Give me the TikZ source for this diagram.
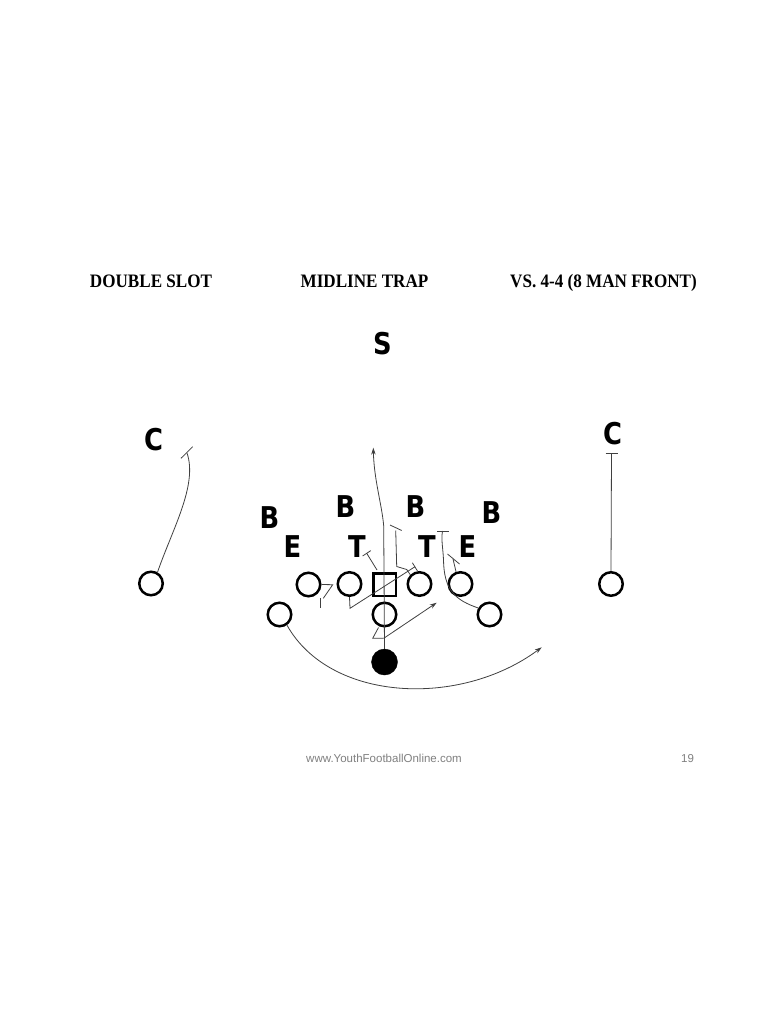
\documentclass[tikz,border=0pt]{standalone}
\usepackage{fontspec}
\setmainfont{Liberation Serif}
\newfontfamily\letterfont{DejaVu Sans}
\newfontfamily\footfont{Liberation Sans}
\newcommand\defletter[1]{\scalebox{0.86}[1]{\bfseries #1}}
\usetikzlibrary{arrows.meta}
\begin{document}
\begin{tikzpicture}[x=1pt,y=-1pt,
  player/.style={circle, draw=black, line width=2.5pt, minimum size=23.5pt, inner sep=0pt},
  centerbox/.style={rectangle, draw=black, line width=2.5pt, minimum size=22.5pt, inner sep=0pt},
  qback/.style={circle, fill=black, draw=black, minimum size=26pt, inner sep=0pt},
  defender/.style={inner sep=0pt, font=\letterfont\fontsize{30}{30}\selectfont},
  titletext/.style={anchor=base, inner sep=0pt, font=\fontsize{19}{19}\selectfont\bfseries},
  foottext/.style={anchor=base, inner sep=0pt, text=black!50, font=\footfont\fontsize{11.5}{11.5}\selectfont},
  route/.style={draw=black!75, line width=0.8pt},
  routearrow/.style={route, -{Stealth[length=7pt,width=4.5pt]}},
  blockline/.style={draw=black!75, line width=0.8pt}
]
\useasboundingbox[fill=white] (0,0) rectangle (768,1024);

% titles
\node[titletext] (title1) at (151,287.3) {\scalebox{0.9}[1]{DOUBLE SLOT}};
\node[titletext] (title2) at (364.5,287.3) {\scalebox{0.9}[1]{MIDLINE TRAP}};
\node[titletext] (title3) at (603.5,287.3) {\scalebox{0.9}[1]{VS. 4-4 (8 MAN FRONT)}};

% defenders
\node[defender] (S) at (382.5,343.5) {\defletter{S}};
\node[defender] (CL) at (153.5,440) {\defletter{C}};
\node[defender] (CR) at (612.5,433.5) {\defletter{C}};
\node[defender] (B1) at (269.5,518) {\defletter{B}};
\node[defender] (B2) at (345.5,506.5) {\defletter{B}};
\node[defender] (B3) at (415.5,507) {\defletter{B}};
\node[defender] (B4) at (491.5,512.5) {\defletter{B}};
\node[defender] (E1) at (292.5,546.5) {\defletter{E}};
\node[defender] (T1) at (357,546.5) {\defletter{T}};
\node[defender] (T2) at (427,546.5) {\defletter{T}};
\node[defender] (E2) at (467.5,546.5) {\defletter{E}};

% offense
\node[player] (LW) at (151,583.5) {};
\node[player] (RW) at (611,584) {};
\node[player] (LT) at (308.5,584.5) {};
\node[player] (LG) at (349.5,584) {};
\node[centerbox] (CC) at (384.5,584.5) {};
\node[player] (RG) at (419.5,584) {};
\node[player] (RT) at (460.5,584) {};
\node[player] (LS) at (279.5,614.5) {};
\node[player] (FB) at (384.5,614.5) {};
\node[player] (RS) at (489.5,614.5) {};
\node[qback] (QB) at (384.5,662) {};

% left wideout
\coordinate (lwend) at (187,453);
\path[route] (LW.60) .. controls (172,530) and (198,485) .. (lwend);
\path[blockline] (181,458.3) -- (192.7,446.7);

% right wideout
\coordinate (rwend) at (611.5,453);
\path[route] (RW.north) -- (rwend);
\path[blockline] (605.5,453) -- (617.5,453);

% fullback dive
\coordinate (fbtip) at (373.3,447.7);
\path[routearrow] (QB.north) -- (383.7,526) .. controls (382,505) and (374,480) .. (fbtip);

% quarterback mesh
\coordinate (qbmesh) at (383.7,638.3);
\coordinate (qbheel) at (372.7,638.3);
\coordinate (qbtip) at (436.7,602.7);
\path[route] (FB.south) ++(-6,0) -- (qbheel) -- (qbmesh);
\path[routearrow] (qbmesh) -- (qbtip);

% left guard trap
\coordinate (lgdown) at (350,608.3);
\coordinate (lgend) at (415,566.7);
\path[route] (LG.south) -- (lgdown) -- (lgend);
\path[blockline] (412.4,562.8) -- (417.6,571.2);

% left tackle
\coordinate (ltout) at (332.7,584.7);
\coordinate (ltend) at (323.3,598.3);
\path[route] (LT.east) -- (ltout) -- (ltend);
\path[blockline] (320.7,598) -- (320.7,608.3);

% center block
\coordinate (ccend) at (366.7,553.3);
\path[route] (CC.north) ++(-7.5,-2) -- (ccend);
\path[blockline] (362.6,556) -- (370.8,550.6);

% right guard
\coordinate (rga) at (406.7,569.5);
\coordinate (rgb) at (396.7,566.5);
\coordinate (rgend) at (395.7,530.5);
\path[route] (RG.135) -- (rga) -- (rgb) -- (rgend);
\path[blockline] (390,525) -- (401.7,530.5);

% right tackle
\coordinate (rtend) at (453,559);
\path[route] (RT.110) -- (rtend);
\path[blockline] (447.5,554) -- (459.5,564);

% right slot
\coordinate (rsend) at (442.5,531);
\path[route] (RS.150) .. controls (455,600) and (444,590) .. (443.5,560) .. controls (443,548) and (441,540) .. (rsend);
\path[blockline] (437,531) -- (448.5,531);

% left slot sweep
\coordinate (lstip) at (541.7,647.3);
\path[routearrow] (LS.-55) .. controls (330,702) and (460,708) .. (lstip);

% footer
\node[foottext] (foot) at (384,762) {www.YouthFootballOnline.com};
\node[foottext] (page) at (687.5,762) {19};
\end{tikzpicture}
\end{document}
